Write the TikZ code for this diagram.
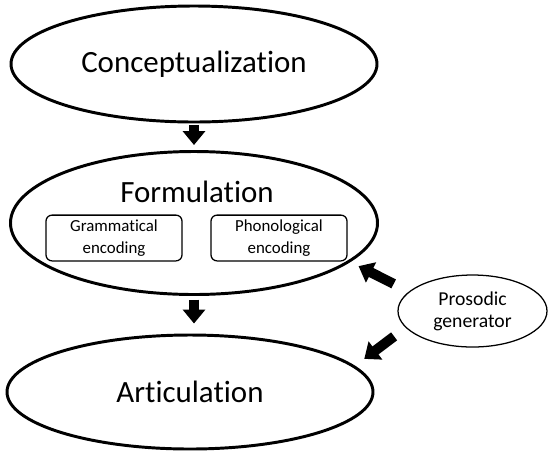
\documentclass[tikz,border=0pt]{standalone}
\usepackage{fontspec}
\setmainfont{Carlito}[Ligatures={NoCommon,NoContextual}]
\usetikzlibrary{shapes.geometric, arrows.meta}
\tikzset{
  oval/.style={ellipse, line width=2.1pt, inner sep=0pt, font=\fontsize{22}{26}\selectfont},
  smalloval/.style={ellipse, line width=0.9pt, inner sep=0pt, align=center, font=\fontsize{14}{15.5}\selectfont},
  rect/.style={rounded corners=0.15cm, line width=0.9pt, align=center, font=\fontsize{12}{15.5}\selectfont},
  blockarrow/.style={line width=0.25cm, -{Triangle[width=0.55cm, length=0.35cm]}}
}

\begin{document}
\begin{tikzpicture}
  \useasboundingbox (0,0) rectangle (13.75,-11.275);

  \node[draw, oval, minimum width=9.15cm, minimum height=2.9cm] at (4.85,-1.6) (concept) {Conceptualization};

  \node[draw, oval, minimum width=9.175cm, minimum height=3.575cm] at (4.85,-5.575) (formul) {};
  \node[font=\fontsize{22}{26}\selectfont] at (4.925,-4.8) (formul_label) {Formulation};
  \node[draw, rect, minimum width=3.4cm, minimum height=1.1cm] at (2.85,-5.95) (gram_enc) {Grammatical\\encoding};
  \node[draw, rect, minimum width=3.4cm, minimum height=1.1cm] at (6.975,-5.95) (phon_enc) {Phonological\\encoding};

  \node[draw, oval, minimum width=9.15cm, minimum height=2.85cm] at (4.75,-9.8) (artic) {Articulation};

  \node[draw, smalloval, minimum width=3.725cm, minimum height=1.8cm] at (11.8125,-7.775) (prosodic) {Prosodic\\generator};

  \draw[blockarrow, shorten <=0.05cm, shorten >=0.125cm] (concept.south) -- (formul.north);
  \draw[blockarrow, shorten <=0.09cm, shorten >=0.25cm] (formul.south) -- (formul.south |- artic.north);
  \draw[blockarrow, shorten <=0.425cm, shorten >=0.23cm] (prosodic.163) -- (formul.-14);
  \draw[blockarrow, shorten <=0.36cm, shorten >=0.29cm] (prosodic.194.8) -- (artic.9.73);

\end{tikzpicture}
\end{document}
